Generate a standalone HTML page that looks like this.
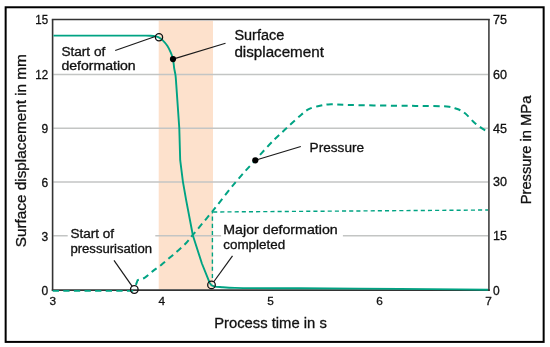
<!DOCTYPE html>
<html><head><meta charset="utf-8"><title>Surface displacement and pressure over process time</title>
<style>html,body{margin:0;padding:0;background:#fff;}svg{display:block;}</style></head>
<body><svg width="550" height="347" viewBox="0 0 550 347">
<rect x="0" y="0" width="550" height="347" fill="#fff"/>
<rect x="158.7" y="20.8" width="54.3" height="268.5" fill="#fde1cc"/>
<line x1="53.3" y1="74.40" x2="488.2" y2="74.40" stroke="#c3c5c4" stroke-width="1.5"/>
<line x1="53.3" y1="128.25" x2="488.2" y2="128.25" stroke="#c3c5c4" stroke-width="1.5"/>
<line x1="53.3" y1="182.10" x2="488.2" y2="182.10" stroke="#c3c5c4" stroke-width="1.5"/>
<line x1="53.3" y1="235.75" x2="67.7" y2="235.75" stroke="#c3c5c4" stroke-width="1.5"/>
<line x1="155.3" y1="235.75" x2="221.1" y2="235.75" stroke="#c3c5c4" stroke-width="1.5"/>
<line x1="342.9" y1="235.75" x2="488.2" y2="235.75" stroke="#c3c5c4" stroke-width="1.5"/>
<line x1="52.6" y1="19.5" x2="52.6" y2="290.9" stroke="#333" stroke-width="1.6"/>
<line x1="488.9" y1="19.5" x2="488.9" y2="290.9" stroke="#555" stroke-width="1.8"/>
<line x1="51.8" y1="19.47" x2="489.8" y2="19.47" stroke="#333" stroke-width="1.6"/>
<line x1="51.8" y1="290.1" x2="489.8" y2="290.1" stroke="#333" stroke-width="1.6"/>
<path d="M212.4,278 L212.4,211.8" fill="none" stroke="#00a383" stroke-width="1.4" stroke-dasharray="4.1 3.06"/>
<path d="M212.4,212.0 L488,210.0" fill="none" stroke="#00a383" stroke-width="1.4" stroke-dasharray="4.1 3.06" stroke-dashoffset="-0.74"/>
<path d="M52.7,290.9 L134,290.9" fill="none" stroke="#00a383" stroke-width="1.8" stroke-dasharray="6.3 4.3"/>
<path d="M134.3,289.2 L137.60,280.20 C139.90,279.42 142.21,279.11 144.50,277.85 C147.28,276.32 149.98,273.33 152.80,271.15 C155.64,268.95 158.66,266.96 161.50,264.70 C164.37,262.41 167.13,259.85 169.90,257.50 C172.59,255.22 175.24,253.16 177.90,250.80 C180.68,248.34 183.69,245.68 186.20,243.00 C188.56,240.47 189.88,238.49 192.60,235.20 C197.31,229.49 205.25,220.10 212.00,211.80 C219.55,202.52 228.06,191.16 235.70,182.10 C242.43,174.12 248.77,167.28 255.30,160.10 C261.67,153.09 268.63,145.27 274.40,139.50 C278.86,135.04 282.42,132.05 286.70,128.10 C291.35,123.81 297.07,118.15 301.30,114.70 C304.29,112.26 306.22,110.40 309.30,108.90 C312.75,107.22 317.74,106.26 321.20,105.50 C323.82,104.92 325.21,104.59 328.20,104.40 C333.45,104.06 341.43,104.82 350.00,105.00 C362.31,105.27 381.78,105.53 395.00,105.70 C405.41,105.84 413.75,105.83 422.90,106.00 C431.77,106.17 443.54,105.92 449.10,106.70 C451.76,107.07 452.98,107.59 454.90,108.20 C456.85,108.82 458.94,109.50 460.70,110.40 C462.32,111.23 463.41,111.92 465.10,113.30 C467.89,115.58 471.64,120.45 475.30,123.50 C478.92,126.51 484.85,130.11 486.90,131.50 C487.63,132.00 487.90,132.17 488.40,132.50" fill="none" stroke="#00a383" stroke-width="2" stroke-dasharray="6.2 4.48" stroke-dashoffset="-4.7"/>
<path d="M53.50,35.65 C82.33,35.65 125.37,35.61 140.00,35.65 C144.98,35.66 147.24,35.58 150.00,35.70 C151.95,35.78 153.52,35.82 155.00,36.10 C156.23,36.33 157.16,36.52 158.30,37.10 C159.79,37.85 161.54,39.22 163.00,40.60 C164.56,42.08 166.03,43.87 167.30,45.80 C168.66,47.87 169.83,50.41 170.80,52.70 C171.71,54.84 172.45,56.74 173.00,59.10 C173.65,61.86 173.75,65.46 174.20,68.30 C174.59,70.77 175.16,72.68 175.50,75.20 C175.90,78.19 176.03,81.80 176.30,85.10 L176.30,85.10 L179.30,128.50 L180.20,160.20 L182.90,181.60 L186.10,199.80 L192.90,235.50 L201.90,263.50 L209.60,282.70 L209.60,282.70 C210.23,283.57 210.65,284.66 211.50,285.30 C212.42,285.99 213.61,286.29 215.00,286.60 C216.91,287.03 219.31,287.01 222.00,287.20 C225.67,287.46 229.01,287.72 235.00,287.90 C248.39,288.30 276.01,288.15 300.00,288.30 C329.76,288.48 367.73,288.66 400.00,288.90 C430.27,289.13 458.67,289.43 488.00,289.70" fill="none" stroke="#00a383" stroke-width="1.9" stroke-linejoin="round"/>
<line x1="115.2" y1="50.5" x2="155.2" y2="36.5" stroke="#1a1a1a" stroke-width="1.2"/>
<line x1="173" y1="59.1" x2="225.5" y2="43.2" stroke="#1a1a1a" stroke-width="1.2"/>
<line x1="255.3" y1="160.3" x2="300.8" y2="146.5" stroke="#1a1a1a" stroke-width="1.2"/>
<line x1="114" y1="260.3" x2="132.2" y2="286.3" stroke="#1a1a1a" stroke-width="1.2"/>
<line x1="213.6" y1="282" x2="232.5" y2="255.9" stroke="#1a1a1a" stroke-width="1.2"/>
<circle cx="159.0" cy="37.3" r="3.6" fill="none" stroke="#111" stroke-width="1.3"/>
<circle cx="134.3" cy="289.5" r="3.8" fill="none" stroke="#111" stroke-width="1.3"/>
<circle cx="211.5" cy="284.9" r="3.8" fill="none" stroke="#111" stroke-width="1.3"/>
<circle cx="173" cy="59.1" r="3.1" fill="#000"/>
<circle cx="255.3" cy="160.3" r="3.1" fill="#000"/>
<g font-family="'Liberation Sans', Arial, sans-serif" fill="#111" stroke="#111" stroke-width="0.3">
<text x="48.1" y="24.0" font-size="12" text-anchor="end" textLength="12.8" lengthAdjust="spacingAndGlyphs">15</text>
<text x="48.1" y="78.95" font-size="12" text-anchor="end" textLength="12.8" lengthAdjust="spacingAndGlyphs">12</text>
<text x="48.1" y="132.8" font-size="12" text-anchor="end">9</text>
<text x="48.1" y="186.65" font-size="12" text-anchor="end">6</text>
<text x="48.1" y="240.5" font-size="12" text-anchor="end">3</text>
<text x="48.1" y="294.95" font-size="12" text-anchor="end">0</text>
<text x="492.9" y="24.3" font-size="12" text-anchor="start" textLength="14.0" lengthAdjust="spacingAndGlyphs">75</text>
<text x="492.9" y="78.75" font-size="12" text-anchor="start" textLength="14.0" lengthAdjust="spacingAndGlyphs">60</text>
<text x="492.9" y="132.6" font-size="12" text-anchor="start" textLength="14.0" lengthAdjust="spacingAndGlyphs">45</text>
<text x="492.9" y="186.45" font-size="12" text-anchor="start" textLength="14.0" lengthAdjust="spacingAndGlyphs">30</text>
<text x="492.9" y="240.3" font-size="12" text-anchor="start" textLength="14.0" lengthAdjust="spacingAndGlyphs">15</text>
<text x="492.9" y="295.05" font-size="12" text-anchor="start">0</text>
<text x="52.85" y="304.9" font-size="11.8" text-anchor="middle">3</text>
<text x="161.75" y="304.9" font-size="11.8" text-anchor="middle">4</text>
<text x="270.65" y="304.9" font-size="11.8" text-anchor="middle">5</text>
<text x="379.55" y="304.9" font-size="11.8" text-anchor="middle">6</text>
<text x="488.45" y="304.9" font-size="11.8" text-anchor="middle">7</text>
<text x="214.2" y="327.7" font-size="14" text-anchor="start" textLength="112.6" lengthAdjust="spacingAndGlyphs">Process time in s</text>
<text transform="translate(26.2,247.2) rotate(-90)" x="0" y="0" font-size="14" textLength="193" lengthAdjust="spacingAndGlyphs">Surface displacement in mm</text>
<text transform="translate(530.9,204.3) rotate(-90)" x="0" y="0" font-size="14" textLength="108.6" lengthAdjust="spacingAndGlyphs">Pressure in MPa</text>
<text x="61.4" y="55.6" font-size="12" text-anchor="start" textLength="43.9" lengthAdjust="spacingAndGlyphs">Start of</text>
<text x="61.4" y="70.1" font-size="12" text-anchor="start" textLength="74.3" lengthAdjust="spacingAndGlyphs">deformation</text>
<text x="234.4" y="39.8" font-size="14" text-anchor="start" textLength="49.8" lengthAdjust="spacingAndGlyphs">Surface</text>
<text x="234.4" y="56.5" font-size="14" text-anchor="start" textLength="89.5" lengthAdjust="spacingAndGlyphs">displacement</text>
<text x="309.6" y="151.8" font-size="13.7" text-anchor="start" textLength="54.5" lengthAdjust="spacingAndGlyphs">Pressure</text>
<text x="70.4" y="238.1" font-size="12" text-anchor="start" textLength="43.6" lengthAdjust="spacingAndGlyphs">Start of</text>
<text x="70.4" y="252.5" font-size="12" text-anchor="start" textLength="81.6" lengthAdjust="spacingAndGlyphs">pressurisation</text>
<text x="223.3" y="233.5" font-size="12.1" text-anchor="start" textLength="114.4" lengthAdjust="spacingAndGlyphs">Major deformation</text>
<text x="223.3" y="248.7" font-size="12.1" text-anchor="start" textLength="61.8" lengthAdjust="spacingAndGlyphs">completed</text>
</g>
<rect x="5.65" y="7.27" width="538" height="334.63" fill="none" stroke="#000" stroke-width="2"/>
</svg></body></html>
